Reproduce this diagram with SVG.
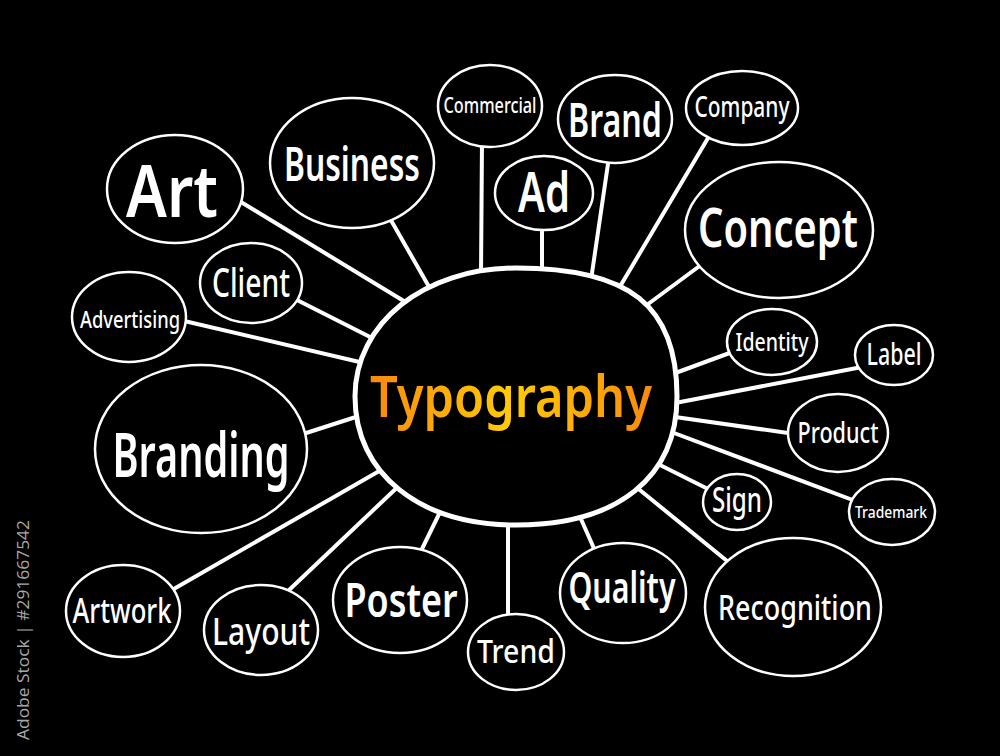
<svg xmlns="http://www.w3.org/2000/svg" width="1000" height="756" viewBox="0 0 1000 756">
<defs>
<style>
.bg{fill:#000}
.node{fill:#000;stroke:#fff;stroke-width:2.5}
.hub{fill:#000;stroke:#fff;stroke-width:5}
.conn line{stroke:#fff;stroke-width:4;stroke-linecap:round}
.t{fill:#fff;font-family:"Noto Sans","Open Sans","DejaVu Sans",sans-serif;text-anchor:middle;font-weight:500}
.b{font-weight:600}
.id{fill:#a8a8a8;font-family:"Open Sans","Noto Sans","DejaVu Sans",sans-serif;font-size:17px}
</style>
<linearGradient id="tg" gradientUnits="userSpaceOnUse" x1="370" y1="0" x2="652" y2="0">
<stop offset="0" stop-color="#f98a0c"/>
<stop offset="0.5" stop-color="#ffcb05"/>
<stop offset="1" stop-color="#f98a0c"/>
</linearGradient>
</defs>
<rect class="bg" x="0" y="0" width="1000" height="756"/>
<g id="connectors" class="conn">
<line x1="236" y1="199" x2="412" y2="306"/>
<line x1="388" y1="215" x2="432" y2="292"/>
<line x1="482" y1="140" x2="481" y2="276"/>
<line x1="542" y1="225" x2="542" y2="274"/>
<line x1="609" y1="157" x2="591" y2="280"/>
<line x1="711" y1="133" x2="615" y2="295"/>
<line x1="705" y1="262" x2="640" y2="310"/>
<line x1="735" y1="351" x2="670" y2="375"/>
<line x1="862" y1="367" x2="670" y2="404"/>
<line x1="795" y1="434" x2="668" y2="416"/>
<line x1="858" y1="502" x2="666" y2="430"/>
<line x1="710" y1="490" x2="650" y2="460"/>
<line x1="732" y1="565" x2="630" y2="482"/>
<line x1="596" y1="553" x2="577" y2="510"/>
<line x1="508" y1="620" x2="508" y2="518"/>
<line x1="420" y1="553" x2="442" y2="508"/>
<line x1="287" y1="592" x2="405" y2="480"/>
<line x1="172" y1="590" x2="388" y2="466"/>
<line x1="300" y1="435" x2="362" y2="415"/>
<line x1="180" y1="320" x2="368" y2="364"/>
<line x1="295" y1="299" x2="376" y2="340"/>
</g>
<g id="node-typography">
<path class="hub" d="M677,396.5 C677,477.5 617.4,525 516,525 C419.4,525 355,473.6 355,396.5 C355,323.3 424.2,268 516,268 C629.8,268 677,305.6 677,396.5 Z"/>
<text x="511" y="417" font-size="58" textLength="282" lengthAdjust="spacingAndGlyphs" style="fill:url(#tg);font-family:'Noto Sans','Open Sans',sans-serif;text-anchor:middle;font-weight:600">Typography</text>
</g>
<g id="node-art"><ellipse class="node" cx="175" cy="189" rx="68" ry="54"/><text class="t b" x="172" y="217" font-size="72" textLength="92" lengthAdjust="spacingAndGlyphs">Art</text></g>
<g id="node-business"><ellipse class="node" cx="352" cy="163" rx="82" ry="65"/><text class="t b" x="352" y="181" font-size="46" textLength="136" lengthAdjust="spacingAndGlyphs">Business</text></g>
<g id="node-commercial"><ellipse class="node" cx="490" cy="106" rx="52" ry="41"/><text class="t" x="490" y="113" font-size="22" textLength="93" lengthAdjust="spacingAndGlyphs">Commercial</text></g>
<g id="node-ad"><ellipse class="node" cx="544" cy="193" rx="49" ry="37"/><text class="t b" x="544" y="212" font-size="56" textLength="52" lengthAdjust="spacingAndGlyphs">Ad</text></g>
<g id="node-brand"><ellipse class="node" cx="615" cy="119" rx="57" ry="44"/><text class="t b" x="615" y="137" font-size="46" textLength="94" lengthAdjust="spacingAndGlyphs">Brand</text></g>
<g id="node-company"><ellipse class="node" cx="742" cy="108" rx="56" ry="37"/><text class="t" x="742" y="117" font-size="28" textLength="95" lengthAdjust="spacingAndGlyphs">Company</text></g>
<g id="node-concept"><ellipse class="node" cx="779" cy="230" rx="94" ry="68"/><text class="t b" x="778" y="247" font-size="54" textLength="160" lengthAdjust="spacingAndGlyphs">Concept</text></g>
<g id="node-identity"><ellipse class="node" cx="772" cy="342" rx="45" ry="33"/><text class="t" x="772" y="351" font-size="26" textLength="73" lengthAdjust="spacingAndGlyphs">Identity</text></g>
<g id="node-label"><ellipse class="node" cx="894" cy="355" rx="39" ry="30"/><text class="t" x="894" y="365" font-size="30" textLength="55" lengthAdjust="spacingAndGlyphs">Label</text></g>
<g id="node-product"><ellipse class="node" cx="838" cy="433" rx="50" ry="39"/><text class="t" x="838" y="443" font-size="28" textLength="81" lengthAdjust="spacingAndGlyphs">Product</text></g>
<g id="node-sign"><ellipse class="node" cx="737" cy="502" rx="34" ry="28"/><text class="t" x="737" y="512" font-size="34" textLength="50" lengthAdjust="spacingAndGlyphs">Sign</text></g>
<g id="node-trademark"><ellipse class="node" cx="892" cy="512" rx="43" ry="33"/><text class="t" x="891" y="518" font-size="17" textLength="72" lengthAdjust="spacingAndGlyphs">Trademark</text></g>
<g id="node-recognition"><ellipse class="node" cx="793" cy="607" rx="88" ry="69"/><text class="t" x="795" y="620" font-size="35" textLength="154" lengthAdjust="spacingAndGlyphs">Recognition</text></g>
<g id="node-quality"><ellipse class="node" cx="623" cy="593" rx="63" ry="50"/><text class="t b" x="622" y="603" font-size="43" textLength="107" lengthAdjust="spacingAndGlyphs">Quality</text></g>
<g id="node-trend"><ellipse class="node" cx="516" cy="652" rx="48" ry="38"/><text class="t" x="516" y="663" font-size="32" textLength="78" lengthAdjust="spacingAndGlyphs">Trend</text></g>
<g id="node-poster"><ellipse class="node" cx="400" cy="600" rx="67" ry="53"/><text class="t b" x="401" y="617" font-size="47" textLength="113" lengthAdjust="spacingAndGlyphs">Poster</text></g>
<g id="node-layout"><ellipse class="node" cx="261" cy="630" rx="57" ry="45"/><text class="t" x="261" y="645" font-size="38" textLength="98" lengthAdjust="spacingAndGlyphs">Layout</text></g>
<g id="node-artwork"><ellipse class="node" cx="123" cy="611" rx="57" ry="46"/><text class="t" x="122" y="623" font-size="34" textLength="99" lengthAdjust="spacingAndGlyphs">Artwork</text></g>
<g id="node-branding"><ellipse class="node" cx="201" cy="449" rx="106" ry="84"/><text class="t b" x="201" y="477" font-size="62" textLength="177" lengthAdjust="spacingAndGlyphs">Branding</text></g>
<g id="node-client"><ellipse class="node" cx="251" cy="283" rx="51" ry="40"/><text class="t" x="251" y="297" font-size="40" textLength="78" lengthAdjust="spacingAndGlyphs">Client</text></g>
<g id="node-advertising"><ellipse class="node" cx="129" cy="317" rx="57" ry="45"/><text class="t" x="130" y="328" font-size="24" textLength="100" lengthAdjust="spacingAndGlyphs">Advertising</text></g>
<text class="id" transform="translate(29,740) rotate(-90)" x="0" y="0" textLength="220" lengthAdjust="spacingAndGlyphs">Adobe Stock | #291667542</text>
</svg>
